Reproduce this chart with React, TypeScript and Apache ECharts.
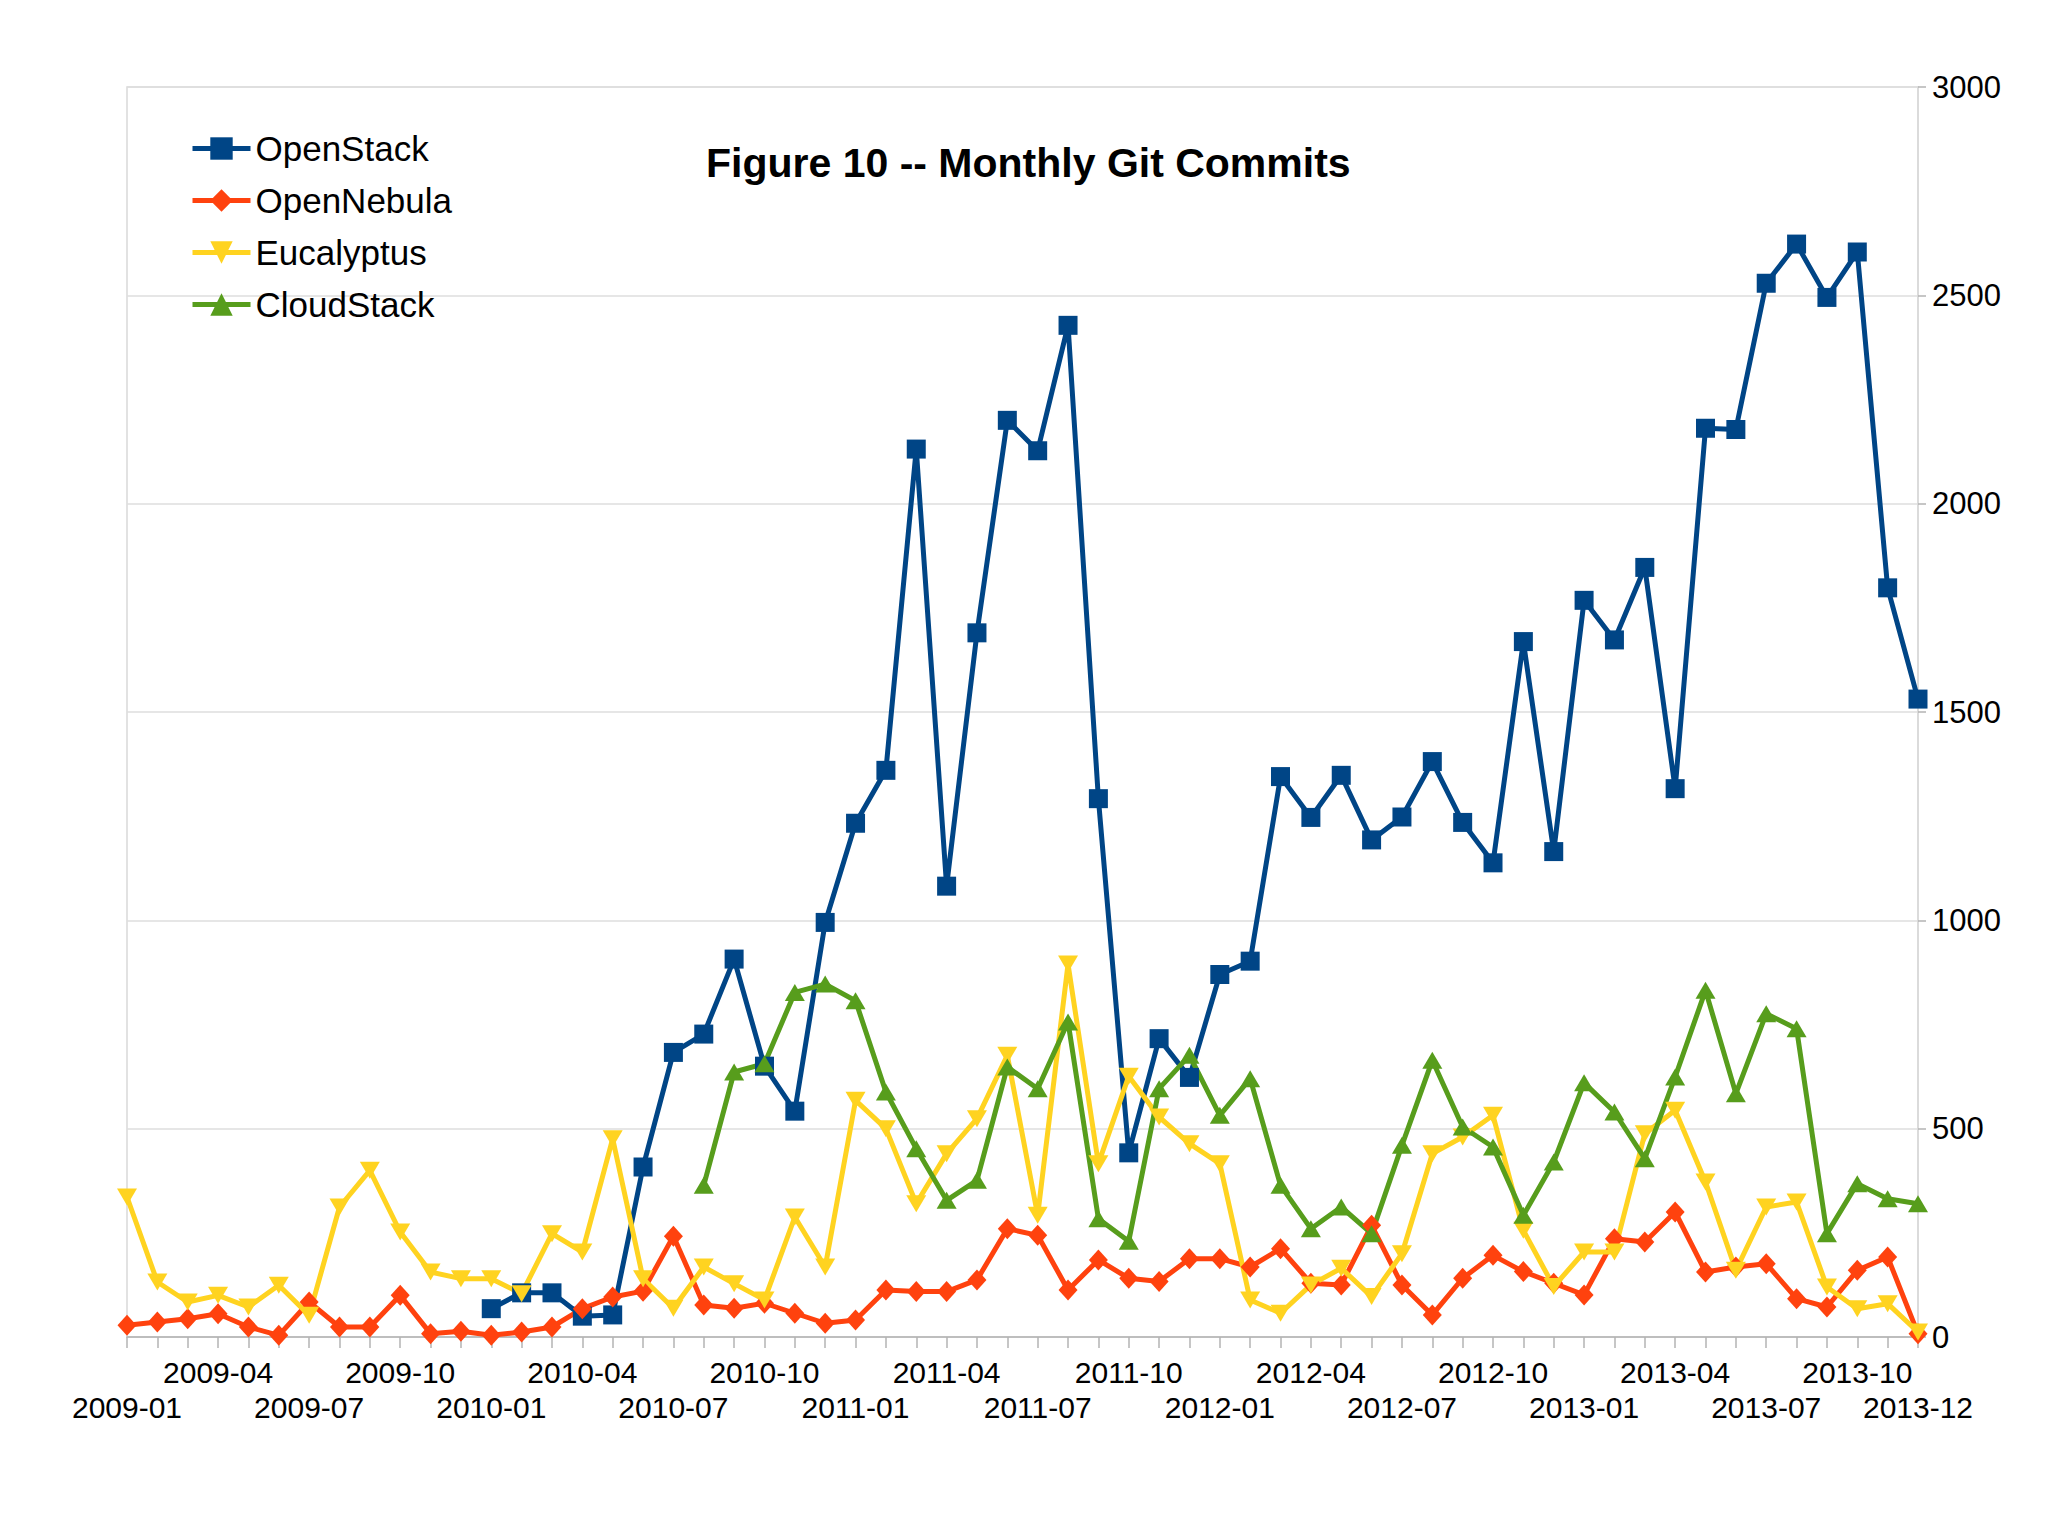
import { useEffect, useRef } from 'react'
import * as echarts from 'echarts'

const months = [
  '2009-01', '2009-02', '2009-03', '2009-04', '2009-05', '2009-06', '2009-07', '2009-08', '2009-09', '2009-10', '2009-11', '2009-12',
  '2010-01', '2010-02', '2010-03', '2010-04', '2010-05', '2010-06', '2010-07', '2010-08', '2010-09', '2010-10', '2010-11', '2010-12',
  '2011-01', '2011-02', '2011-03', '2011-04', '2011-05', '2011-06', '2011-07', '2011-08', '2011-09', '2011-10', '2011-11', '2011-12',
  '2012-01', '2012-02', '2012-03', '2012-04', '2012-05', '2012-06', '2012-07', '2012-08', '2012-09', '2012-10', '2012-11', '2012-12',
  '2013-01', '2013-02', '2013-03', '2013-04', '2013-05', '2013-06', '2013-07', '2013-08', '2013-09', '2013-10', '2013-11', '2013-12'
]

const openStack = [
  null, null, null, null, null, null, null, null, null, null, null, null,
  68, 106, 106, 50, 53, 408, 683, 727, 907, 650, 542, 995,
  1233, 1360, 2131, 1082, 1690, 2200, 2127, 2428, 1292, 442, 716, 623,
  870, 902, 1345, 1247, 1348, 1193, 1248, 1381, 1235, 1138, 1669, 1165,
  1768, 1673, 1847, 1316, 2181, 2178, 2529, 2623, 2495, 2604, 1798, 1531
]

const openNebula = [
  28, 36, 44, 56, 24, 4, 84, 24, 24, 100, 8, 14,
  4, 12, 24, 68, 96, 110, 242, 77, 69, 81, 57, 33,
  41, 113, 109, 109, 137, 260, 244, 113, 185, 141, 133, 188,
  188, 168, 212, 129, 125, 268, 125, 53, 141, 196, 157, 129,
  101, 236, 228, 300, 156, 168, 176, 92, 72, 160, 192, 8
]

const eucalyptus = [
  336, 132, 84, 100, 72, 124, 52, 312, 400, 252, 156, 140,
  140, 104, 248, 204, 476, 140, 69, 168, 128, 89, 288, 168,
  568, 500, 320, 440, 524, 676, 292, 895, 416, 626, 528, 464,
  416, 89, 57, 125, 165, 97, 200, 440, 480, 532, 256, 121,
  204, 204, 488, 544, 372, 160, 312, 324, 120, 68, 80, 12
]

const cloudStack = [
  null, null, null, null, null, null, null, null, null, null, null, null,
  null, null, null, null, null, null, null, 364, 636, 656, 827, 847,
  807, 588, 452, 328, 376, 648, 596, 756, 284, 230, 596, 676,
  532, 620, 364, 260, 312, 248, 460, 664, 504, 456, 292, 420,
  610, 540, 428, 624, 832, 584, 776, 740, 248, 368, 332, 320
]

const FONT = "'Liberation Sans', Arial, sans-serif"

export default function App() {
  const chartRef = useRef<HTMLDivElement>(null)

  useEffect(() => {
    if (!chartRef.current) return
    const chart = echarts.init(chartRef.current, null, { renderer: 'svg' })

    const lineSeries = (name: string, data: (number | null)[], color: string, symbol: string, symbolSize: number | number[]) => ({
      name,
      type: 'line',
      data,
      symbol,
      symbolSize,
      showAllSymbol: true,
      lineStyle: { color, width: 5 },
      itemStyle: { color },
      z: 3
    })

    const option: any = {
      animation: false,
      backgroundColor: '#ffffff',
      textStyle: { fontFamily: FONT },
      title: {
        text: 'Figure 10 -- Monthly Git Commits',
        left: 706,
        top: 142,
        padding: 0,
        textStyle: { fontSize: 41, fontWeight: 'bold', color: '#000', fontFamily: FONT }
      },
      legend: {
        orient: 'vertical',
        left: 190,
        top: 131,
        padding: 0,
        itemWidth: 58,
        itemHeight: 28,
        itemGap: 17,
        lineStyle: { width: 5 },
        textStyle: { fontSize: 35, color: '#000', fontFamily: FONT },
        data: ['OpenStack', 'OpenNebula', 'Eucalyptus', 'CloudStack']
      },
      grid: {
        left: 127,
        right: 130,
        top: 87,
        bottom: 198,
        show: true,
        borderColor: '#d9d9d9',
        borderWidth: 1.5
      },
      xAxis: {
        type: 'category',
        data: months,
        boundaryGap: false,
        axisLine: { lineStyle: { color: '#b3b3b3', width: 1.5 } },
        axisTick: { interval: 0, length: 11, lineStyle: { color: '#b3b3b3', width: 1.5 } },
        axisLabel: {
          interval: (index: number) => index % 3 === 0 || index === 59,
          margin: 20,
          color: '#000',
          fontSize: 30,
          fontFamily: FONT,
          formatter: (value: string, index: number) => (index % 6 === 3 ? `{a|${value}}` : `{b|${value}}`),
          rich: {
            a: { fontSize: 30, color: '#000', fontFamily: FONT },
            b: { fontSize: 30, color: '#000', fontFamily: FONT, padding: [35, 0, 0, 0] }
          }
        },
        splitLine: { show: false }
      },
      yAxis: {
        type: 'value',
        position: 'right',
        min: 0,
        max: 3000,
        interval: 500,
        axisLine: { show: true, lineStyle: { color: '#d9d9d9', width: 1.5 } },
        axisTick: { show: true, length: 8, lineStyle: { color: '#b3b3b3', width: 1.5 } },
        axisLabel: {
          margin: 14,
          color: '#000',
          fontSize: 31,
          fontFamily: FONT,
          formatter: (v: number) => String(v)
        },
        splitLine: { lineStyle: { color: '#dedede', width: 1.5 } }
      },
      series: [
        lineSeries('OpenStack', openStack, '#004586', 'rect', 19),
        lineSeries('OpenNebula', openNebula, '#ff420e', 'diamond', [19, 21]),
        lineSeries('Eucalyptus', eucalyptus, '#ffd320', 'path://M0,0L20,0L10,17Z', [20, 17]),
        lineSeries('CloudStack', cloudStack, '#579d1c', 'triangle', [20, 17])
      ]
    }

    chart.setOption(option)

    return () => {
      chart.dispose()
    }
  }, [])

  return <div ref={chartRef} style={{ position: 'absolute', left: 0, top: 0, width: 2048, height: 1535 }} />
}
